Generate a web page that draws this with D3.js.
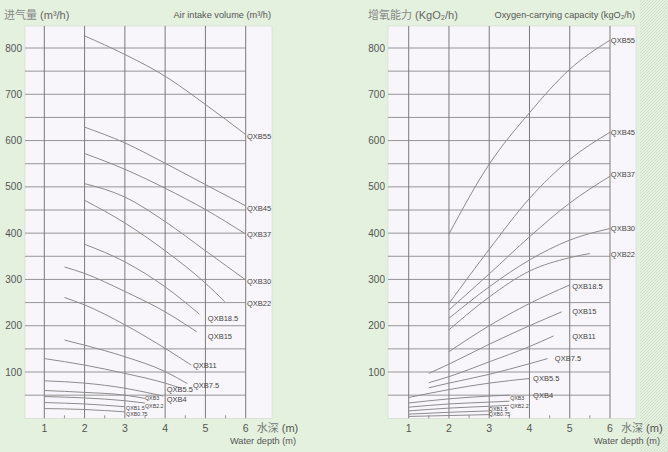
<!DOCTYPE html>
<html><head><meta charset="utf-8">
<script src="https://cdn.jsdelivr.net/npm/d3@7"></script>
<style>html,body{margin:0;padding:0;background:#e3f1de;}svg{display:block}</style>
</head><body><svg id="chart" width="668" height="452"></svg>
<script>
// ---------- data ----------
const depthTicks = [1, 2, 3, 4, 5, 6];
const minorDepthTicks = [1.5, 2.5, 3.5, 4.5, 5.5];
const gridValues = [50, 100, 150, 200, 250, 300, 350, 400, 450, 500, 550, 600, 650, 700, 750, 800];
const valueTickLabels = [100, 200, 300, 400, 500, 600, 700, 800];
const seriesNames = ["QXB55", "QXB45", "QXB37", "QXB30", "QXB22", "QXB18.5", "QXB15", "QXB11", "QXB7.5", "QXB5.5", "QXB4", "QXB3", "QXB2.2", "QXB1.5", "QXB0.75"];

// Air intake volume (m3/h) : [depth m, value]
const airQXB55 = [[2, 826], [3, 786], [4, 739], [5, 678], [6, 613]];
const airQXB45 = [[2, 629], [3, 595], [4, 551], [5, 505], [6, 459]];
const airQXB37 = [[2, 572], [3, 538], [4, 497], [5, 451], [6, 398]];
const airQXB30 = [[2, 507], [3, 478], [4, 425], [5, 362], [6, 299]];
const airQXB22 = [[2, 471], [3, 422], [4, 362], [5, 292], [5.48, 252]];
const airQXB18_5 = [[2, 376], [3, 338], [4, 284], [4.85, 225]];
const airQXB15 = [[1.5, 327], [2, 313], [3, 274], [4, 230], [4.78, 187]];
const airQXB11 = [[1.5, 261], [2, 245], [3, 202], [4, 151], [4.65, 115]];
const airQXB7_5 = [[1.5, 169], [2, 158], [3, 133], [4, 101], [4.55, 75]];
const airQXB5_5 = [[1, 129], [2, 115], [3, 97], [4, 76], [4.4, 65]];
const airQXB4 = [[1, 81], [2, 76], [3, 65], [3.95, 48]];
const airQXB3 = [[1, 60], [2, 56], [3, 50], [3.5, 43]];
const airQXB2_2 = [[1, 47], [2, 44], [3, 38], [3.5, 33]];
const airQXB1_5 = [[1, 34], [2, 31], [3, 25]];
const airQXB0_75 = [[1, 21], [2, 19], [3, 14]];
const airCurves = [airQXB55, airQXB45, airQXB37, airQXB30, airQXB22, airQXB18_5, airQXB15, airQXB11, airQXB7_5, airQXB5_5, airQXB4, airQXB3, airQXB2_2, airQXB1_5, airQXB0_75];
const airLabelAt = [[6.03, 608], [6.03, 454], [6.03, 398], [6.03, 296], [6.03, 249], [5.06, 215], [5.06, 178], [4.69, 115], [4.69, 72], [4.04, 63], [4.04, 40], [3.5, 43], [3.5, 27], [3.03, 21], [3.03, 9]];

// Oxygen-carrying capacity (kgO2/h) : [depth m, value]
const oxyQXB55 = [[2, 398], [3, 549], [4, 660], [5, 754], [6, 817]];
const oxyQXB45 = [[2, 248], [3, 365], [4, 475], [5, 559], [6, 618]];
const oxyQXB37 = [[2, 234], [3, 312], [4, 392], [5, 465], [6, 523]];
const oxyQXB30 = [[2, 216], [3, 284], [4, 342], [5, 385], [6, 410]];
const oxyQXB22 = [[2, 191], [3, 262], [4, 318], [5, 347], [5.5, 356]];
const oxyQXB18_5 = [[2, 144], [3, 200], [4, 248], [5, 288]];
const oxyQXB15 = [[1.5, 97], [2, 117], [3, 160], [4, 200], [4.8, 230]];
const oxyQXB11 = [[1.5, 77], [2, 90], [3, 122], [4, 155], [4.6, 178]];
const oxyQXB7_5 = [[1.5, 66], [2, 76], [3, 95], [4, 118], [4.45, 129]];
const oxyQXB5_5 = [[1, 45], [2, 62], [3, 76], [4, 86]];
const oxyQXB4 = [[1, 33], [2, 42], [3, 48], [3.5, 50]];
const oxyQXB3 = [[1, 24], [2, 31], [3, 35], [3.5, 37]];
const oxyQXB2_2 = [[1, 16], [2, 22], [3, 26], [3.5, 28]];
const oxyQXB1_5 = [[1, 9], [2, 13], [3, 16]];
const oxyQXB0_75 = [[1, 4], [2, 6], [3, 8]];
const oxyCurves = [oxyQXB55, oxyQXB45, oxyQXB37, oxyQXB30, oxyQXB22, oxyQXB18_5, oxyQXB15, oxyQXB11, oxyQXB7_5, oxyQXB5_5, oxyQXB4, oxyQXB3, oxyQXB2_2, oxyQXB1_5, oxyQXB0_75];
const oxyLabelAt = [[6.02, 817], [6.02, 618], [6.02, 526], [6.02, 411], [6.02, 355], [5.06, 284], [5.06, 232], [5.06, 178], [4.63, 130], [4.09, 86], [4.09, 50], [3.52, 43], [3.52, 27], [2.99, 19], [2.99, 8]];

// ---------- drawing ----------
const svg = d3.select("#chart");
const defs = svg.append("defs");
const pat = defs.append("pattern").attr("id", "hatch").attr("patternUnits", "userSpaceOnUse")
  .attr("width", 3).attr("height", 3);
pat.append("rect").attr("width", 3).attr("height", 3).attr("fill", "#e3f1de");
pat.append("path").attr("d", "M0,3 L3,0").attr("stroke", "#cbdcc6").attr("stroke-width", 0.8);

svg.append("rect").attr("width", 668).attr("height", 452).attr("fill", "#e3f1de");
svg.append("rect").attr("x", 640).attr("y", 0).attr("width", 28).attr("height", 452).attr("fill", "url(#hatch)");

const SANS = "'Liberation Sans', Arial, sans-serif";
const CJK = "'Noto Sans CJK SC', sans-serif";
const smallNames = new Set(["QXB3", "QXB2.2", "QXB1.5", "QXB0.75"]);

function drawPanel(cfg) {
  const g = svg.append("g");
  const x = d3.scaleLinear().domain([1, 6]).range([cfg.x1, cfg.x6]);
  const y = d3.scaleLinear().domain([0, 800]).range([418.3, 48]);
  const top = 26, bottom = y(0);

  g.append("rect").attr("x", cfg.left).attr("y", top).attr("width", cfg.right - cfg.left)
    .attr("height", bottom - top).attr("fill", "#f8f6fa").attr("stroke", "#d4d6d4").attr("stroke-width", 0.6);

  g.selectAll(".hg").data(gridValues).join("line")
    .attr("x1", cfg.left).attr("x2", x(6))
    .attr("y1", d => y(d)).attr("y2", d => y(d))
    .attr("stroke", "#8a8a8a").attr("stroke-width", 0.9);
  g.selectAll(".vg").data(depthTicks).join("line")
    .attr("x1", d => x(d)).attr("x2", d => x(d))
    .attr("y1", top).attr("y2", bottom)
    .attr("stroke", "#7a7a7a").attr("stroke-width", 1);
  g.selectAll(".mt").data(minorDepthTicks).join("line")
    .attr("x1", d => x(d)).attr("x2", d => x(d))
    .attr("y1", bottom - 3).attr("y2", bottom)
    .attr("stroke", "#7a7a7a").attr("stroke-width", 0.8);

  g.selectAll(".yl").data(valueTickLabels).join("text")
    .attr("x", cfg.left - 3).attr("y", d => y(d)).attr("dy", "0.35em")
    .attr("text-anchor", "end").attr("font-family", SANS).attr("font-size", 10)
    .attr("fill", "#555").text(d => d);
  g.selectAll(".xl").data(depthTicks).join("text")
    .attr("x", d => x(d)).attr("y", 432)
    .attr("text-anchor", "middle").attr("font-family", SANS).attr("font-size", 10.5)
    .attr("fill", "#555").text(d => d);

  const line = d3.line().x(d => x(d[0])).y(d => y(d[1])).curve(d3.curveMonotoneX);
  g.selectAll(".cv").data(cfg.curves).join("path")
    .attr("d", line).attr("fill", "none").attr("stroke", "#8c8c8c").attr("stroke-width", 1);

  g.selectAll(".sl").data(seriesNames).join("text")
    .attr("x", (d, i) => x(cfg.labels[i][0])).attr("y", (d, i) => y(cfg.labels[i][1]))
    .attr("dy", "0.35em").attr("font-family", SANS)
    .attr("font-size", d => smallNames.has(d) ? 5.3 : 7.5)
    .attr("fill", "#444").text(d => d);

  const t1 = g.append("text").attr("x", cfg.titleX).attr("y", 19).attr("font-size", 11).attr("fill", "#666");
  t1.append("tspan").attr("font-family", CJK).attr("fill", "#888").text(cfg.zhTitle);
  t1.append("tspan").attr("font-family", SANS).text(cfg.zhUnit);
  g.append("text").attr("x", cfg.right - 1).attr("y", 18).attr("text-anchor", "end")
    .attr("font-family", SANS).attr("font-size", 9.2).attr("fill", "#555").text(cfg.enTitle);

  const t2 = g.append("text").attr("x", x(6) + 11).attr("y", 432).attr("font-size", 11).attr("fill", "#555");
  t2.append("tspan").attr("font-family", CJK).attr("fill", "#777").text("水深");
  t2.append("tspan").attr("font-family", SANS).text(" (m)");
  g.append("text").attr("x", cfg.depthEnd).attr("y", 444).attr("text-anchor", "end")
    .attr("font-family", SANS).attr("font-size", 9.2).attr("fill", "#555").text("Water depth (m)");
}

drawPanel({ left: 25, right: 272, x1: 44.3, x6: 245.7, curves: airCurves, labels: airLabelAt,
  titleX: 4, zhTitle: "进气量", zhUnit: " (m³/h)", enTitle: "Air intake volume (m³/h)", depthEnd: 296 });
drawPanel({ left: 388, right: 636, x1: 408.7, x6: 610, curves: oxyCurves, labels: oxyLabelAt,
  titleX: 368, zhTitle: "增氧能力", zhUnit: " (KgO₂/h)", enTitle: "Oxygen-carrying capacity (kgO₂/h)", depthEnd: 660 });
</script></body></html>
